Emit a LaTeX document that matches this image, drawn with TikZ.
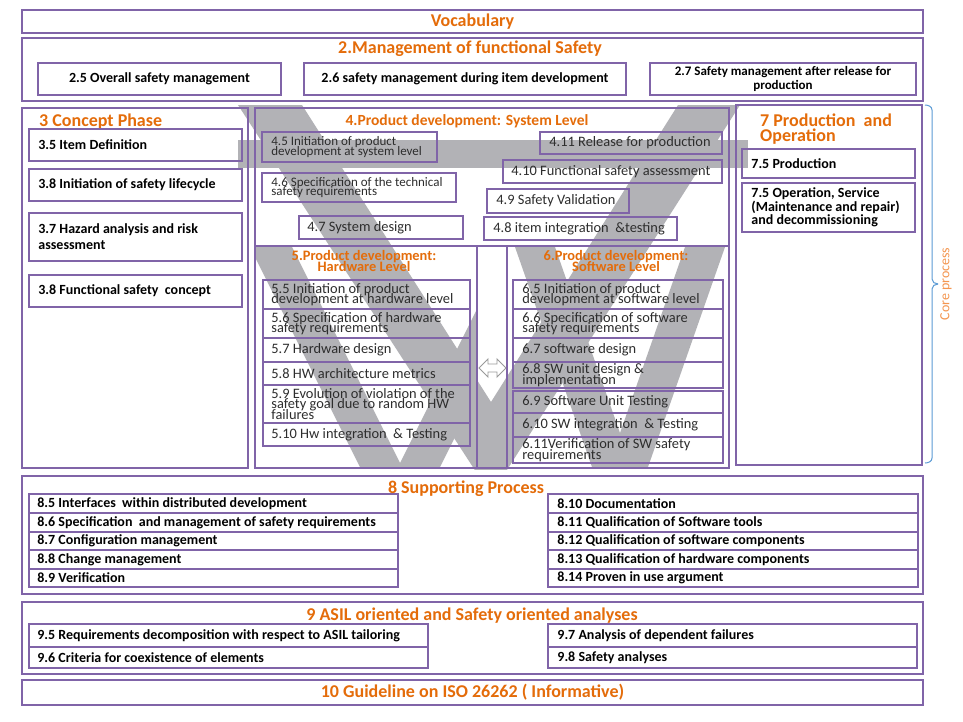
\documentclass[tikz,border=0pt]{standalone}
\usepackage{fontspec}
\setmainfont{Carlito}
\definecolor{boxc}{RGB}{128,100,168}
\definecolor{ttlc}{RGB}{228,108,10}
\definecolor{wm}{RGB}{178,178,182}
\definecolor{txtg}{RGB}{45,45,45}
\definecolor{bracec}{RGB}{91,155,213}
\definecolor{corec}{RGB}{244,150,80}
\newcommand\fs[2]{\fontsize{#1}{#2}\selectfont\lineskiplimit=-100pt\relax}
% left-aligned box: name, x1, y1, x2, y2, pad, style, text
\newcommand\lbox[8]{%
  \pgfmathsetmacro\cx{(#2+#4)/2}\pgfmathsetmacro\cy{(#3+#5)/2}%
  \pgfmathsetmacro\bw{#4-#2}\pgfmathsetmacro\bh{#5-#3}%
  \node[box,minimum width=\bw pt,minimum height=\bh pt,inner sep=0pt] (#1) at (\cx,\cy) {};
  \node[#7,anchor=west,align=left,inner sep=0pt] (#1t) at ([xshift=#6pt]#1.west) {#8};}
% centered box: name, x1, y1, x2, y2, style, text
\newcommand\cbox[7]{%
  \pgfmathsetmacro\cx{(#2+#4)/2}\pgfmathsetmacro\cy{(#3+#5)/2}%
  \pgfmathsetmacro\bw{#4-#2}\pgfmathsetmacro\bh{#5-#3}%
  \node[box,#6,minimum width=\bw pt,minimum height=\bh pt,inner sep=0pt,align=center] (#1) at (\cx,\cy) {#7};}
\tikzset{
  box/.style={draw=boxc, line width=1.6pt},
  ttl/.style={text=ttlc, font=\bfseries\fs{18}{15}},
  bt/.style={text=black, font=\bfseries\fs{14}{16}},
  btn/.style={text=black, font=\bfseries\fs{14}{13.5}},
  rt/.style={text=txtg, font=\fs{14.4}{10.5}},
  rts/.style={text=txtg, font=\fs{13}{9.5}},
  subttl/.style={text=ttlc, font=\bfseries\fs{14.4}{10.5}, align=center, inner sep=0pt},
}
\begin{document}
\begin{tikzpicture}[x=1pt,y=-1pt]
\useasboundingbox[fill=white] (0,0) rectangle (963,721);
% ---------- watermark V ----------
\begin{scope}
  \clip (238,104) rectangle (750,469);
  \fill[wm] (238,140) rectangle (748,168);
  \fill[wm] (238,105) -- (302,105) -- (491,402) -- (678,105) -- (740,105) -- (491,495) -- cycle;
\end{scope}
\begin{scope}
  \clip (256,247) rectangle (477,468);
  \fill[wm] (250,247) -- (292,247) -- (400,463) -- (508,247) -- (550,247) -- (400,547) -- cycle;
\end{scope}
\begin{scope}
  \clip (507,247) rectangle (728,468);
  \fill[wm] (515,247) -- (555,247) -- (620,433) -- (685,247) -- (725,247) -- (620,547) -- cycle;
\end{scope}
% ---------- Vocabulary ----------
\cbox{voc}{22}{10}{923}{33}{ttl}{Vocabulary}
% ---------- Management ----------
\cbox{mgmt}{22}{38}{923}{101}{}{}
\node[ttl,anchor=base] (mgmtt) at (470,53) {2.Management of functional Safety};
\cbox{m25}{38}{63}{281}{95}{bt}{2.5 Overall safety management}
\cbox{m26}{304}{63}{626}{95}{bt}{2.6 safety management during item development}
\cbox{m27}{650}{63}{916}{95}{text=black,font=\bfseries\fs{13}{13.5}}{2.7 Safety management after release for\\production}
% ---------- Concept ----------
\cbox{conc}{22}{108}{248}{468}{}{}
\node[ttl,anchor=base west,inner sep=0pt] (conct) at (39,126) {3 Concept Phase};
\lbox{c35}{29}{129}{242}{161}{10}{bt}{3.5 Item Definition}
\lbox{c38}{29}{169}{242}{201}{10}{bt}{3.8 Initiation of safety lifecycle}
\lbox{c37}{29}{213}{242}{261}{10}{bt}{3.7 Hazard analysis and risk\\assessment}
\lbox{c38b}{29}{275}{242}{307}{10}{bt}{3.8 Functional safety\ \ concept}
% ---------- Product development system ----------
\cbox{pd}{255}{108}{729}{468}{}{}
\node[ttl,anchor=base,font=\bfseries\fs{15.5}{15}] (pdt) at (467,125) {4.Product development: System Level};
\lbox{s45}{262}{132}{437}{162}{10}{rts}{4.5 Initiation of product\\development at system level}
\lbox{s46}{262}{173}{456}{202}{10}{rts}{4.6 Specification of the technical\\safety requirements}
\lbox{s47}{299}{216}{463}{239}{9}{rt}{4.7 System design}
\lbox{s411}{540}{132}{722}{154}{10}{rt}{4.11 Release for production}
\lbox{s410}{503}{160}{722}{183}{9}{rt}{4.10 Functional safety assessment}
\lbox{s49}{487}{189}{629}{213}{10}{rt}{4.9 Safety Validation}
\lbox{s48}{484}{217}{677}{240}{10}{rt}{4.8 item integration\ \ \&testing}
% divider lines
\coordinate (hl1) at (255,246);
\coordinate (hl2) at (729,246);
\draw[box] (hl1) -- (hl2);
\coordinate (vl1t) at (477,246);
\coordinate (vl1b) at (477,468);
\coordinate (vl2t) at (507,246);
\coordinate (vl2b) at (507,468);
\draw[box] (vl1t) -- (vl1b);
\draw[box] (vl2t) -- (vl2b);
% ---------- Hardware ----------
\node[subttl,anchor=base] (hwt) at (364,271) {5.Product development:\\Hardware Level};
\lbox{h55}{263}{280}{470}{309}{9}{rt}{5.5 Initiation of product\\development at hardware level}
\lbox{h56}{263}{309}{470}{338}{9}{rt}{5.6 Specification of hardware\\safety requirements}
\lbox{h57}{263}{338}{470}{362}{9}{rt}{5.7 Hardware design}
\lbox{h58}{263}{362}{470}{385}{9}{rt}{5.8 HW architecture metrics}
\lbox{h59}{263}{385}{470}{423}{9}{rt}{5.9 Evolution of violation of the\\safety goal due to random HW\\failures}
\lbox{h510}{263}{423}{470}{446}{9}{rt}{5.10 Hw integration\ \ \& Testing}
% ---------- Software ----------
\node[subttl,anchor=base] (swt) at (616,271) {6.Product development:\\Software Level};
\lbox{w65}{513}{280}{723}{309}{10}{rt}{6.5 Initiation of product\\development at software level}
\lbox{w66}{513}{309}{723}{338}{10}{rt}{6.6 Specification of software\\safety requirements}
\lbox{w67}{513}{338}{723}{362}{10}{rt}{6.7 software design}
\lbox{w68}{513}{362}{723}{388}{10}{rt}{6.8 SW unit design \&\\implementation}
\lbox{w69}{513}{391}{723}{413}{10}{rt}{6.9 Software Unit Testing}
\lbox{w610}{513}{413}{723}{437}{10}{rt}{6.10 SW integration\ \ \& Testing}
\lbox{w611}{513}{437}{723}{463}{10}{rt}{6.11Verification of SW safety\\requirements}
% double arrow between HW and SW
\draw[draw=gray!80, fill=white, line width=0.9pt] (479,368) -- (488,359) -- (488,364) -- (497,364) -- (497,359) -- (506,368) -- (497,377) -- (497,372) -- (488,372) -- (488,377) -- cycle;
% ---------- Production ----------
\cbox{prod}{736}{105}{922}{465}{}{}
\node[ttl,anchor=north west,align=left,inner sep=0pt] (prodt) at (760,114) {7 Production\ \ and\\Operation};
\lbox{p75}{742}{149}{915}{178}{10}{bt}{7.5 Production}
\lbox{p75b}{742}{183}{915}{232}{10}{btn}{7.5 Operation, Service\\(Maintenance and repair)\\and decommissioning}
% core process brace
\coordinate (brt) at (925,105);
\coordinate (brb) at (925,463);
\coordinate (brm) at (938,284);
\draw[bracec, line width=1pt] (brt) to[out=0,in=90] (932,110) -- (932,279) to[out=-90,in=180] (brm);
\draw[bracec, line width=1pt] (brm) to[out=180,in=90] (932,289) -- (932,458) to[out=-90,in=0] (brb);
\node[rotate=90, text=corec, font=\fs{14}{14}, inner sep=0pt] (core) at (946,284) {Core process};
% ---------- Supporting ----------
\cbox{sup}{22}{476}{923}{594}{}{}
\node[ttl,anchor=base] (supt) at (466,493) {8 Supporting Process};
\lbox{s85}{29}{494}{398}{513}{9}{bt}{8.5 Interfaces\ \ within distributed development}
\lbox{s86}{29}{513}{398}{532}{9}{bt}{8.6 Specification\ \ and management of safety requirements}
\lbox{s87}{29}{532}{398}{550}{9}{bt}{8.7 Configuration management}
\lbox{s88}{29}{550}{398}{569}{9}{bt}{8.8 Change management}
\lbox{s89}{29}{569}{398}{587}{9}{bt}{8.9 Verification}
\lbox{s810}{548}{494}{918}{513}{10}{bt}{8.10 Documentation}
\lbox{s811}{548}{513}{918}{532}{10}{bt}{8.11 Qualification of Software tools}
\lbox{s812}{548}{532}{918}{550}{10}{bt}{8.12 Qualification of software components}
\lbox{s813}{548}{550}{918}{569}{10}{bt}{8.13 Qualification of hardware components}
\lbox{s814}{548}{569}{918}{587}{10}{bt}{8.14 Proven in use argument}
% ---------- ASIL ----------
\cbox{asil}{22}{602}{923}{674}{}{}
\node[ttl,anchor=base] (asilt) at (472,620) {9 ASIL oriented and Safety oriented analyses};
\lbox{a95}{29}{624}{428}{647}{9}{bt}{9.5 Requirements decomposition with respect to ASIL tailoring}
\lbox{a96}{29}{647}{428}{668}{9}{bt}{9.6 Criteria for coexistence of elements}
\lbox{a97}{548}{624}{917}{647}{10}{bt}{9.7 Analysis of dependent failures}
\lbox{a98}{548}{647}{917}{668}{10}{bt}{9.8 Safety analyses}
% ---------- Guideline ----------
\cbox{guide}{22}{680}{923}{705}{ttl}{10 Guideline on ISO 26262 ( Informative)}
\end{tikzpicture}
\end{document}
